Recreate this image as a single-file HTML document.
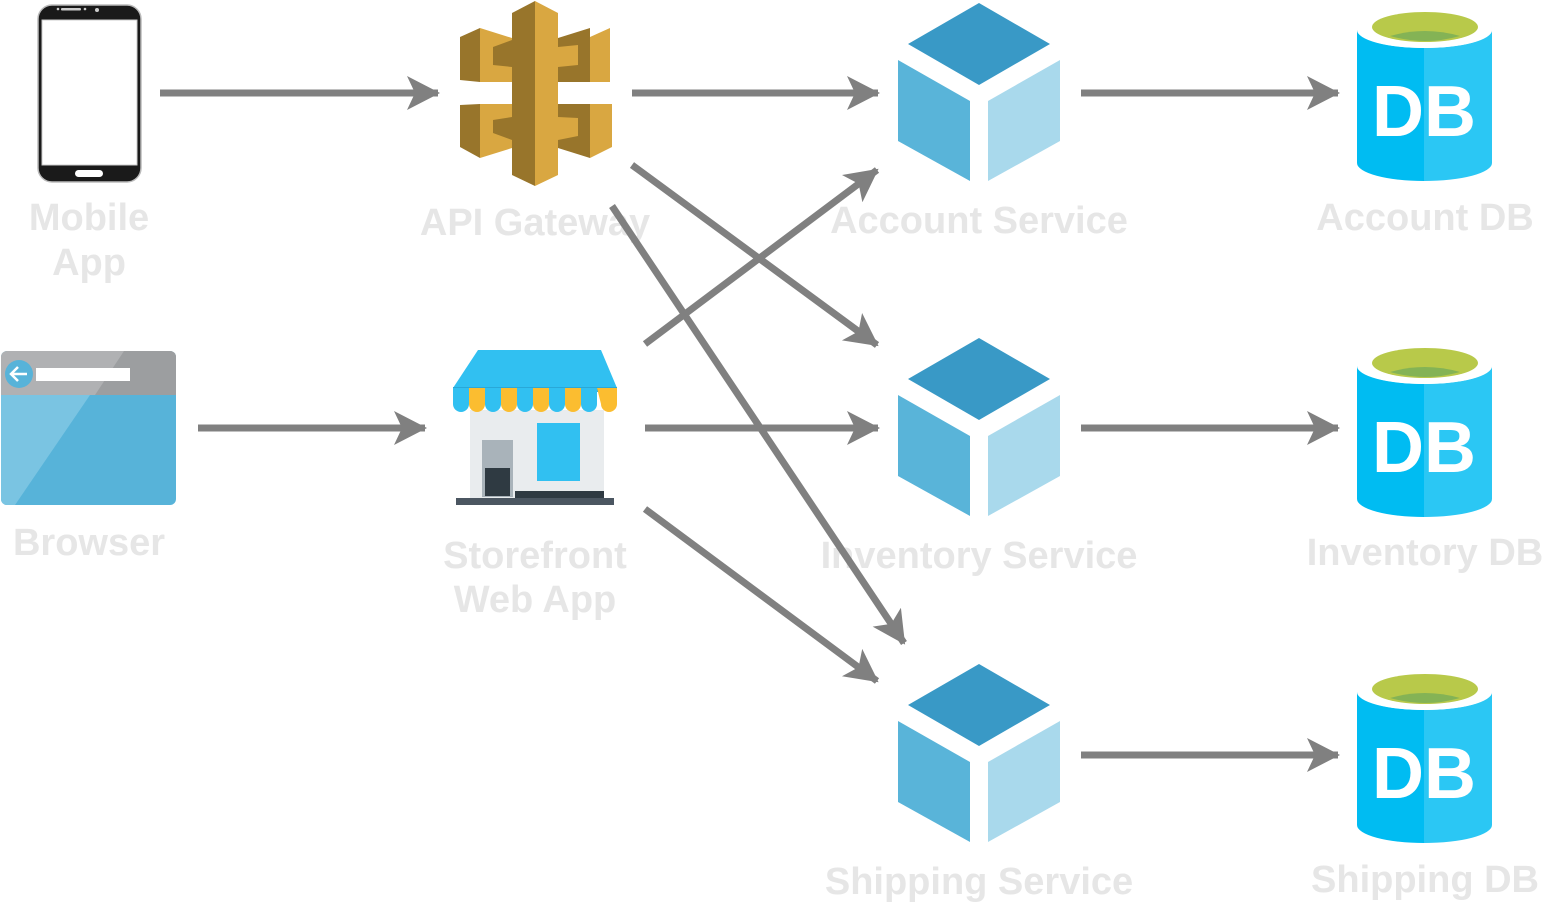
<!DOCTYPE html>
<html><head><meta charset="utf-8"><style>
html,body{margin:0;padding:0;background:#fff;}
svg{display:block;}
text{font-family:"Liberation Sans",Arial,sans-serif;font-weight:bold;fill:#e6e6e6;font-size:38px;text-anchor:middle;}
</style></head><body>
<svg width="1544" height="906" viewBox="0 0 1544 906" xmlns="http://www.w3.org/2000/svg">
<defs>
<marker id="ah" markerUnits="userSpaceOnUse" markerWidth="34" markerHeight="36" viewBox="0 0 34 36" refX="31" refY="18" orient="auto">
<path d="M0,1 L33,18 L0,35 L8,18 Z" fill="#808080"/>
</marker>
<clipPath id="bclip"><rect x="1" y="351" width="175" height="154" rx="6"/></clipPath>
<g id="cube">
<polygon points="979,3 1050,44 979,85 908,44" fill="#3999c6"/>
<polygon points="898,60 970,101 970,181 898,141" fill="#59b4d9"/>
<polygon points="988,101 1060,60 1060,141 988,181" fill="#a9d9ec"/>
</g>
<g id="db">
<path d="M1357,30 L1357,163 A67,18 0 0 0 1424,181 L1424,48 A67,18 0 0 1 1357,30 Z" fill="#00bcf2"/>
<path d="M1424,48 L1424,181 A68,18 0 0 0 1492,163 L1492,30 A68,18 0 0 1 1424,48 Z" fill="#2bc7f4"/>
<ellipse cx="1425" cy="30" rx="67" ry="18" fill="#fff"/>
<ellipse cx="1425" cy="27" rx="53" ry="15" fill="#b8c94a"/>
<path d="M1390,36 Q1425,26 1460,36 Q1425,46 1390,36 Z" fill="#84b355"/>
<text x="1424" y="136" style="fill:#fff;font-size:72px;">DB</text>
</g>
</defs>

<!-- Mobile phone -->
<rect x="38" y="5" width="103" height="177" rx="14" fill="#1a1a1a" stroke="#bbb" stroke-width="1.5"/>
<rect x="42" y="20" width="95" height="145" fill="#fff" stroke="#ccc" stroke-width="1"/>
<rect x="61" y="8" width="20" height="2.5" rx="1" fill="#ccc"/>
<circle cx="58" cy="9" r="1.3" fill="#ccc"/><circle cx="85" cy="9" r="1.3" fill="#ccc"/><circle cx="97" cy="10" r="2" fill="#ccc"/>
<rect x="75" y="170" width="28" height="7" rx="3.5" fill="#fff"/>
<text x="89" y="230">Mobile</text>
<text x="89" y="275">App</text>

<!-- API Gateway -->
<g>
<polygon points="460,37 480,28 480,82 460,80" fill="#98752b"/>
<polygon points="480,28 512,38 512,82 480,82" fill="#d9a741"/>
<polygon points="493,47 512,40 512,67 493,65" fill="#98752b"/>
<polygon points="460,105 480,104 480,158 460,147" fill="#98752b"/>
<polygon points="480,104 512,104 512,148 480,158" fill="#d9a741"/>
<polygon points="493,120 512,117 512,140 493,133" fill="#98752b"/>
<polygon points="590,37 610,28 610,82 590,82" fill="#d9a741"/>
<polygon points="558,38 590,28 590,82 558,82" fill="#98752b"/>
<polygon points="558,47 578,45 578,65 558,67" fill="#d9a741"/>
<polygon points="590,104 612,104 612,147 590,158" fill="#d9a741"/>
<polygon points="558,104 590,104 590,158 558,148" fill="#98752b"/>
<polygon points="558,117 578,118 578,136 558,140" fill="#d9a741"/>
<polygon points="512,13 535,1 535,186 512,175" fill="#98752b"/>
<polygon points="535,1 558,13 558,175 535,186" fill="#d9a741"/>
</g>
<text x="535" y="235">API Gateway</text>

<!-- Browser -->
<g clip-path="url(#bclip)">
<rect x="1" y="351" width="175" height="154" fill="#57b3d9"/>
<path d="M1,395 L90,395 L15,505 L1,505 Z" fill="#7ac4e2"/>
<rect x="1" y="351" width="175" height="44" fill="#b0b1b3"/>
<path d="M124,351 L176,351 L176,395 L95,395 Z" fill="#9c9ea0"/>
</g>
<circle cx="19" cy="374" r="14" fill="#57b3d9"/>
<path d="M27,374 L12,374 M18,367 L11,374 L18,381" stroke="#fff" stroke-width="2.5" fill="none"/>
<rect x="36" y="368" width="94" height="13" fill="#fff"/>
<text x="89" y="555">Browser</text>

<!-- Storefront -->
<g>
<rect x="470" y="410" width="134" height="90" fill="#e9ecee"/>
<polygon points="478,350 601,350 617,388 453,388" fill="#31c0f1"/>
<rect x="453" y="387" width="164" height="5" fill="#29a8d8"/>
<g>
<path d="M453,388 h16 v16 a8,8 0 0 1 -16,0 Z" fill="#31c0f1"/>
<path d="M469,388 h16 v16 a8,8 0 0 1 -16,0 Z" fill="#fbbd30"/>
<path d="M485,388 h16 v16 a8,8 0 0 1 -16,0 Z" fill="#31c0f1"/>
<path d="M501,388 h16 v16 a8,8 0 0 1 -16,0 Z" fill="#fbbd30"/>
<path d="M517,388 h16 v16 a8,8 0 0 1 -16,0 Z" fill="#31c0f1"/>
<path d="M533,388 h16 v16 a8,8 0 0 1 -16,0 Z" fill="#fbbd30"/>
<path d="M549,388 h16 v16 a8,8 0 0 1 -16,0 Z" fill="#31c0f1"/>
<path d="M565,388 h16 v16 a8,8 0 0 1 -16,0 Z" fill="#fbbd30"/>
<path d="M581,388 h16 v16 a8,8 0 0 1 -16,0 Z" fill="#31c0f1"/>
<path d="M597,388 h20 v16 a8,8 0 0 1 -16,0 Z" fill="#fbbd30"/>
</g>
<rect x="482" y="440" width="31" height="57" fill="#a9b3ba"/>
<rect x="485" y="468" width="25" height="28" fill="#2f3a42"/>
<rect x="537" y="423" width="43" height="58" fill="#31c0f1"/>
<rect x="515" y="491" width="89" height="7" fill="#2f3a42"/>
<rect x="456" y="498" width="158" height="7" fill="#4b5661"/>
</g>
<text x="535" y="568">Storefront</text>
<text x="535" y="612">Web App</text>

<!-- Services -->
<use href="#cube"/>
<use href="#cube" transform="translate(0,335)"/>
<use href="#cube" transform="translate(0,661)"/>
<text x="979" y="233">Account Service</text>
<text x="979" y="568">Inventory Service</text>
<text x="979" y="894">Shipping Service</text>

<!-- DBs -->
<use href="#db"/>
<use href="#db" transform="translate(0,336)"/>
<use href="#db" transform="translate(0,662)"/>
<text x="1425" y="230">Account DB</text>
<text x="1425" y="565">Inventory DB</text>
<text x="1425" y="892">Shipping DB</text>

<!-- Connectors -->
<g stroke="#808080" stroke-width="7" fill="none" marker-end="url(#ah)">
<line x1="160" y1="93" x2="438" y2="93"/>
<line x1="632" y1="93" x2="878" y2="93"/>
<line x1="1081" y1="93" x2="1338" y2="93"/>
<line x1="198" y1="428" x2="425" y2="428"/>
<line x1="645" y1="428" x2="878" y2="428"/>
<line x1="1081" y1="428" x2="1338" y2="428"/>
<line x1="1081" y1="755" x2="1338" y2="755"/>
<line x1="632" y1="165" x2="877" y2="345"/>
<line x1="612" y1="206" x2="904" y2="643"/>
<line x1="645" y1="344" x2="877" y2="170"/>
<line x1="645" y1="509" x2="877" y2="681"/>
</g>
</svg>
</body></html>
